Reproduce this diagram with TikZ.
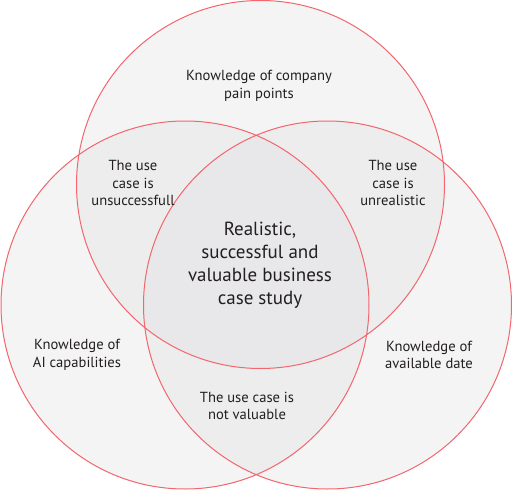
\documentclass[tikz,border=0pt]{standalone}
\usepackage{fontspec}
\setmainfont{PT Sans}
\usepackage{tikz}
\usetikzlibrary{positioning}
\definecolor{vennred}{HTML}{F2666E}
\definecolor{onefill}{HTML}{F4F4F4}
\definecolor{twofill}{HTML}{EDEDED}
\definecolor{threefill}{HTML}{E8E8EA}
\definecolor{vtext}{HTML}{231F20}
\tikzset{
  setlabel/.style={align=center, text=vtext, font=\fontsize{14.6}{17.7}\selectfont},
  corelabel/.style={align=center, text=vtext, font=\fontsize{19}{23}\selectfont},
  ring/.style={draw=vennred, line width=1pt},
}

\begin{document}
\begin{tikzpicture}[x=1pt,y=-1pt]
  \useasboundingbox (0,0) rectangle (512,490);
  \coordinate (ctop) at (260.5,184.5);
  \coordinate (cleft) at (185,305);
  \coordinate (cright) at (327.5,305);
  \def\rad{184pt}
  % one set
  \fill[onefill] (ctop) circle (\rad) (cleft) circle (\rad) (cright) circle (\rad);
  % two sets
  \begin{scope}
    \clip (ctop) circle (\rad);
    \fill[twofill] (cleft) circle (\rad) (cright) circle (\rad);
  \end{scope}
  \begin{scope}
    \clip (cleft) circle (\rad);
    \fill[twofill] (cright) circle (\rad);
  \end{scope}
  % all three
  \begin{scope}
    \clip (ctop) circle (\rad);
    \clip (cleft) circle (\rad);
    \fill[threefill] (cright) circle (\rad);
  \end{scope}
  \draw[ring] (ctop) circle (\rad) (cleft) circle (\rad) (cright) circle (\rad);

  \node[setlabel] (pain) at (259,86) {Knowledge of company\\pain points};
  \node[setlabel] (ai) at (77,355) {Knowledge of\\AI capabilities};
  \node[setlabel] (data) at (429,355) {Knowledge of\\available date};
  \node[setlabel] (unsucc) at (133,183) {The use\\case is\\unsuccessfull};
  \node[setlabel] (unreal) at (393,183) {The use\\case is\\unrealistic};
  \node[setlabel] (notval) at (247,406) {The use case is\\not valuable};
  \node[corelabel] (core) at (260,265) {Realistic,\\successful and\\valuable business\\case study};
\end{tikzpicture}
\end{document}
